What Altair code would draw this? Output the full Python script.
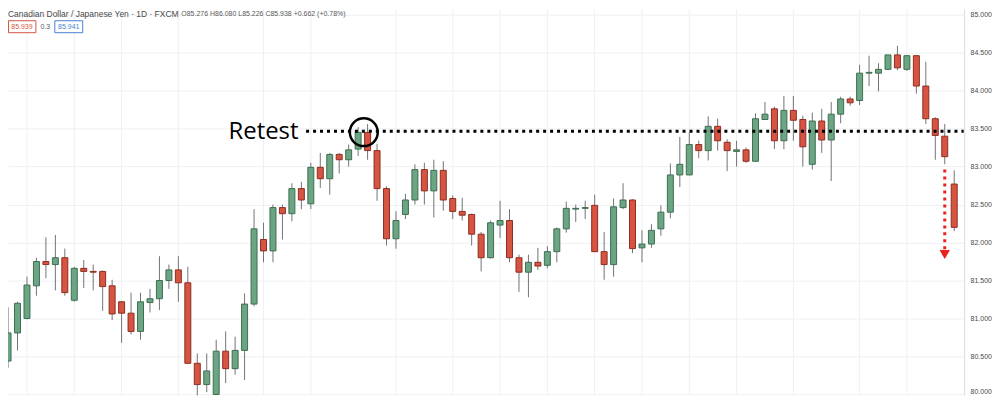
import altair as alt
import pandas as pd

# ---- candle data ----
idx = list(range(1, 102))
opens = [80.44, 80.81, 81.00, 81.43, 81.75, 81.71, 81.80, 81.24, 81.66, 81.62,
         81.62, 81.43, 81.22, 81.07, 80.83, 81.21, 81.26, 81.50, 81.64, 81.47,
         80.41, 80.13, 80.00, 80.57, 80.34, 80.58, 81.19, 82.04, 81.89, 82.46,
         82.38, 82.71, 82.51, 82.99, 82.84, 83.16, 83.09, 83.23, 83.45, 83.21,
         82.71, 82.05, 82.37, 82.56, 82.96, 82.68, 82.95, 82.58, 82.41, 82.37,
         82.11, 81.80, 82.23, 82.29, 81.80, 81.61, 81.74, 81.70, 81.88, 82.18,
         82.44, 82.45, 82.49, 81.88, 81.71, 82.46, 82.56, 81.93, 81.98, 82.18,
         82.40, 82.89, 82.89, 83.29, 83.21, 83.53, 83.32, 83.20, 83.22, 83.07,
         83.62, 83.76, 83.34, 83.74, 83.62, 83.03, 83.60, 83.35, 83.69, 83.89,
         83.87, 84.23, 84.23, 84.28, 84.47, 84.28, 84.46, 84.06, 83.63, 83.40,
         82.77]
highs = [81.15, 81.22, 81.55, 81.80, 82.07, 82.10, 81.92, 81.68, 81.77, 81.71,
         81.63, 81.51, 81.23, 81.34, 81.34, 81.39, 81.82, 81.71, 81.82, 81.68,
         80.54, 80.54, 80.72, 80.83, 80.76, 81.33, 82.44, 82.26, 82.50, 82.50,
         82.78, 82.80, 83.05, 83.18, 83.18, 83.18, 83.29, 83.52, 83.56, 83.30,
         82.74, 82.41, 82.64, 83.03, 83.05, 83.09, 83.07, 82.62, 82.59, 82.38,
         82.14, 82.29, 82.55, 82.44, 81.84, 81.84, 81.93, 81.95, 82.20, 82.54,
         82.50, 82.55, 82.63, 82.14, 82.58, 82.78, 82.57, 82.16, 82.24, 82.49,
         83.04, 83.39, 83.45, 83.34, 83.66, 83.63, 83.36, 83.34, 83.25, 83.70,
         83.85, 83.79, 83.93, 83.93, 83.67, 83.71, 83.76, 83.85, 83.92, 83.92,
         84.34, 84.46, 84.36, 84.47, 84.59, 84.47, 84.47, 84.38, 83.65, 83.56,
         82.95]
lows = [80.35, 80.58, 80.99, 81.30, 81.53, 81.37, 81.30, 81.22, 81.40, 81.37,
        81.10, 80.98, 80.68, 80.79, 80.72, 81.08, 81.11, 81.39, 81.22, 80.40,
        79.90, 80.03, 79.99, 80.15, 80.26, 80.19, 81.16, 81.74, 81.74, 82.04,
        82.28, 82.44, 82.44, 82.72, 82.63, 82.91, 83.00, 83.14, 83.09, 82.55,
        81.96, 81.92, 82.31, 82.50, 82.50, 82.33, 82.42, 82.31, 82.29, 81.96,
        81.62, 81.79, 82.06, 81.74, 81.35, 81.28, 81.64, 81.66, 81.74, 82.13,
        82.27, 82.31, 81.88, 81.51, 81.55, 82.44, 81.86, 81.74, 81.93, 82.09,
        82.32, 82.73, 82.89, 83.11, 83.08, 83.21, 82.94, 83.00, 83.05, 83.06,
        83.62, 83.23, 83.23, 83.34, 83.00, 82.96, 83.18, 82.81, 83.57, 83.80,
        83.81, 84.06, 83.99, 84.27, 84.27, 84.26, 83.96, 83.56, 83.09, 83.03,
        82.15]
closes = [80.81, 81.20, 81.44, 81.75, 81.71, 81.80, 81.34, 81.66, 81.62, 81.61,
          81.42, 81.06, 81.07, 80.83, 81.22, 81.26, 81.50, 81.64, 81.47, 80.41,
          80.13, 80.31, 80.57, 80.34, 80.58, 81.19, 82.18, 81.89, 82.46, 82.38,
          82.71, 82.56, 82.99, 82.84, 83.16, 83.09, 83.22, 83.45, 83.21, 82.71,
          82.05, 82.29, 82.56, 82.96, 82.68, 82.95, 82.56, 82.41, 82.36, 82.11,
          81.80, 82.26, 82.29, 81.80, 81.61, 81.74, 81.69, 81.88, 82.18, 82.45,
          82.45, 82.46, 81.88, 81.71, 82.47, 82.56, 81.92, 81.98, 82.16, 82.40,
          82.89, 83.03, 83.29, 83.21, 83.53, 83.34, 83.21, 83.22, 83.07, 83.63,
          83.69, 83.34, 83.74, 83.61, 83.26, 83.60, 83.35, 83.69, 83.89, 83.84,
          84.23, 84.24, 84.28, 84.47, 84.30, 84.46, 84.06, 83.63, 83.41, 83.13,
          82.20]

# candle indices where the weekly vertical gridlines fall
grid_candles = [3, 8, 13, 19, 28, 33, 42, 48, 53, 58, 63, 68, 73, 78, 84, 91, 96]
price_ticks = [80.0, 80.5, 81.0, 81.5, 82.0, 82.5, 83.0, 83.5, 84.0, 84.5, 85.0]

retest_level = 83.466
retest_start = 32.5
arrow_candle = 100
arrow_top = 82.96
arrow_bottom = 81.88
arrow_head = 81.842

df = pd.DataFrame({"i": idx, "open": opens, "high": highs, "low": lows, "close": closes})
df["dir"] = ["up" if c >= o else "down" for o, c in zip(opens, closes)]

xscale = alt.Scale(domain=[1.5208, 101.5208], nice=False, zero=False)
yscale = alt.Scale(domain=[79.99, 85.0773], nice=False, zero=False)
yaxis = alt.Axis(orient="right", values=price_ticks, format=".3f", title=None,
                 labelFontSize=7, labelColor="#4a4a4a", labelFont="Liberation Sans",
                 labelPadding=6, ticks=False, domain=True, domainColor="#d9dce3",
                 grid=True, gridColor="#eef0f4", gridWidth=1, labelOverlap=False,
                 labelFlush=3)

X = lambda f: alt.X(f, type="quantitative", scale=xscale, axis=None)
Y = lambda f: alt.Y(f, type="quantitative", scale=yscale, axis=yaxis)

vgrid = alt.Chart(pd.DataFrame({"i": grid_candles})).mark_rule(
    color="#eef0f4", strokeWidth=1, clip=True).encode(x=X("i"))

base = alt.Chart(df)
wicks = base.mark_rule(color="#737375", strokeWidth=1, clip=True).encode(
    x=X("i"), y=Y("low"), y2="high")
bodies = base.mark_bar(size=6, strokeWidth=1, clip=True).encode(
    x=X("i"), y=Y("open"), y2="close",
    fill=alt.Fill("dir:N", scale=alt.Scale(domain=["up", "down"], range=["#6ba583", "#d75442"]), legend=None),
    stroke=alt.Stroke("dir:N", scale=alt.Scale(domain=["up", "down"], range=["#3d6e52", "#8c2d21"]), legend=None),
)

ann = pd.DataFrame({"x1": [retest_start], "x2": [102.0], "y": [retest_level]})
retest_line = alt.Chart(ann).mark_rule(color="black", strokeWidth=3, strokeDash=[3, 4], clip=True).encode(
    x=X("x1"), x2="x2", y=Y("y"))

circ = alt.Chart(pd.DataFrame({"x": [38.6], "y": [83.453]})).mark_point(
    shape="circle", size=784, filled=False, color="black", strokeWidth=2.5, opacity=1).encode(
    x=X("x"), y=Y("y"))

retest_txt = alt.Chart(pd.DataFrame({"x": [31.7], "y": [83.453], "t": ["Retest"]})).mark_text(
    align="right", baseline="middle", fontSize=24, font="Open Sans", color="black").encode(
    x=X("x"), y=Y("y"), text="t:N")

arrow_shaft = alt.Chart(pd.DataFrame({"x": [arrow_candle], "y1": [arrow_top], "y2": [arrow_bottom]})).mark_rule(
    color="#e8231d", strokeWidth=3, strokeDash=[3, 4]).encode(x=X("x"), y=Y("y1"), y2="y2")
arrow_tip = alt.Chart(pd.DataFrame({"x": [arrow_candle], "y": [arrow_head]})).mark_point(
    shape="triangle-down", size=110, filled=True, color="#e8231d", opacity=1).encode(x=X("x"), y=Y("y"))

# ---- header (legend overlay) ----
one = pd.DataFrame({"t": ["Canadian Dollar / Japanese Yen · 1D · FXCM"]})
h1 = alt.Chart(one).mark_text(align="left", baseline="middle", fontSize=8.5, font="Liberation Sans",
                              color="#4a4a4a").encode(x=alt.value(0), y=alt.value(5), text="t:N")
h2 = alt.Chart(pd.DataFrame({"t": ["O85.276 H86.080 L85.226 C85.938 +0.662 (+0.78%)"]})).mark_text(
    align="left", baseline="middle", fontSize=7, font="Liberation Sans", color="#5a5a5a").encode(
    x=alt.value(174), y=alt.value(5), text="t:N")
box1 = alt.Chart(one).mark_rect(fill="white", stroke="#d75442", strokeWidth=1).encode(
    x=alt.value(0.5), x2=alt.value(28), y=alt.value(12), y2=alt.value(24))
box2 = alt.Chart(one).mark_rect(fill="white", stroke="#4a7fd1", strokeWidth=1).encode(
    x=alt.value(47), x2=alt.value(75), y=alt.value(12), y2=alt.value(24))
b1t = alt.Chart(pd.DataFrame({"t": ["85.939"]})).mark_text(
    align="center", baseline="middle", fontSize=7, font="Liberation Sans", color="#d75442").encode(
    x=alt.value(14), y=alt.value(18), text="t:N")
b2t = alt.Chart(pd.DataFrame({"t": ["85.941"]})).mark_text(
    align="center", baseline="middle", fontSize=7, font="Liberation Sans", color="#4a7fd1").encode(
    x=alt.value(61), y=alt.value(18), text="t:N")
mid = alt.Chart(pd.DataFrame({"t": ["0.3"]})).mark_text(
    align="center", baseline="middle", fontSize=7, font="Liberation Sans", color="#5a5a5a").encode(
    x=alt.value(37.5), y=alt.value(18), text="t:N")

chart = alt.layer(
    vgrid, wicks, bodies, retest_line, circ, retest_txt, arrow_shaft, arrow_tip,
    h1, h2, box1, box2, b1t, b2t, mid,
).properties(
    width=960, height=388,
    autosize=alt.AutoSizeParams(type="none"),
    padding={"left": 0, "top": 0, "right": 28, "bottom": 0},
    background="white",
).configure_view(stroke=None)

chart.save("out.html", embed_options={"renderer": "svg", "actions": False})
